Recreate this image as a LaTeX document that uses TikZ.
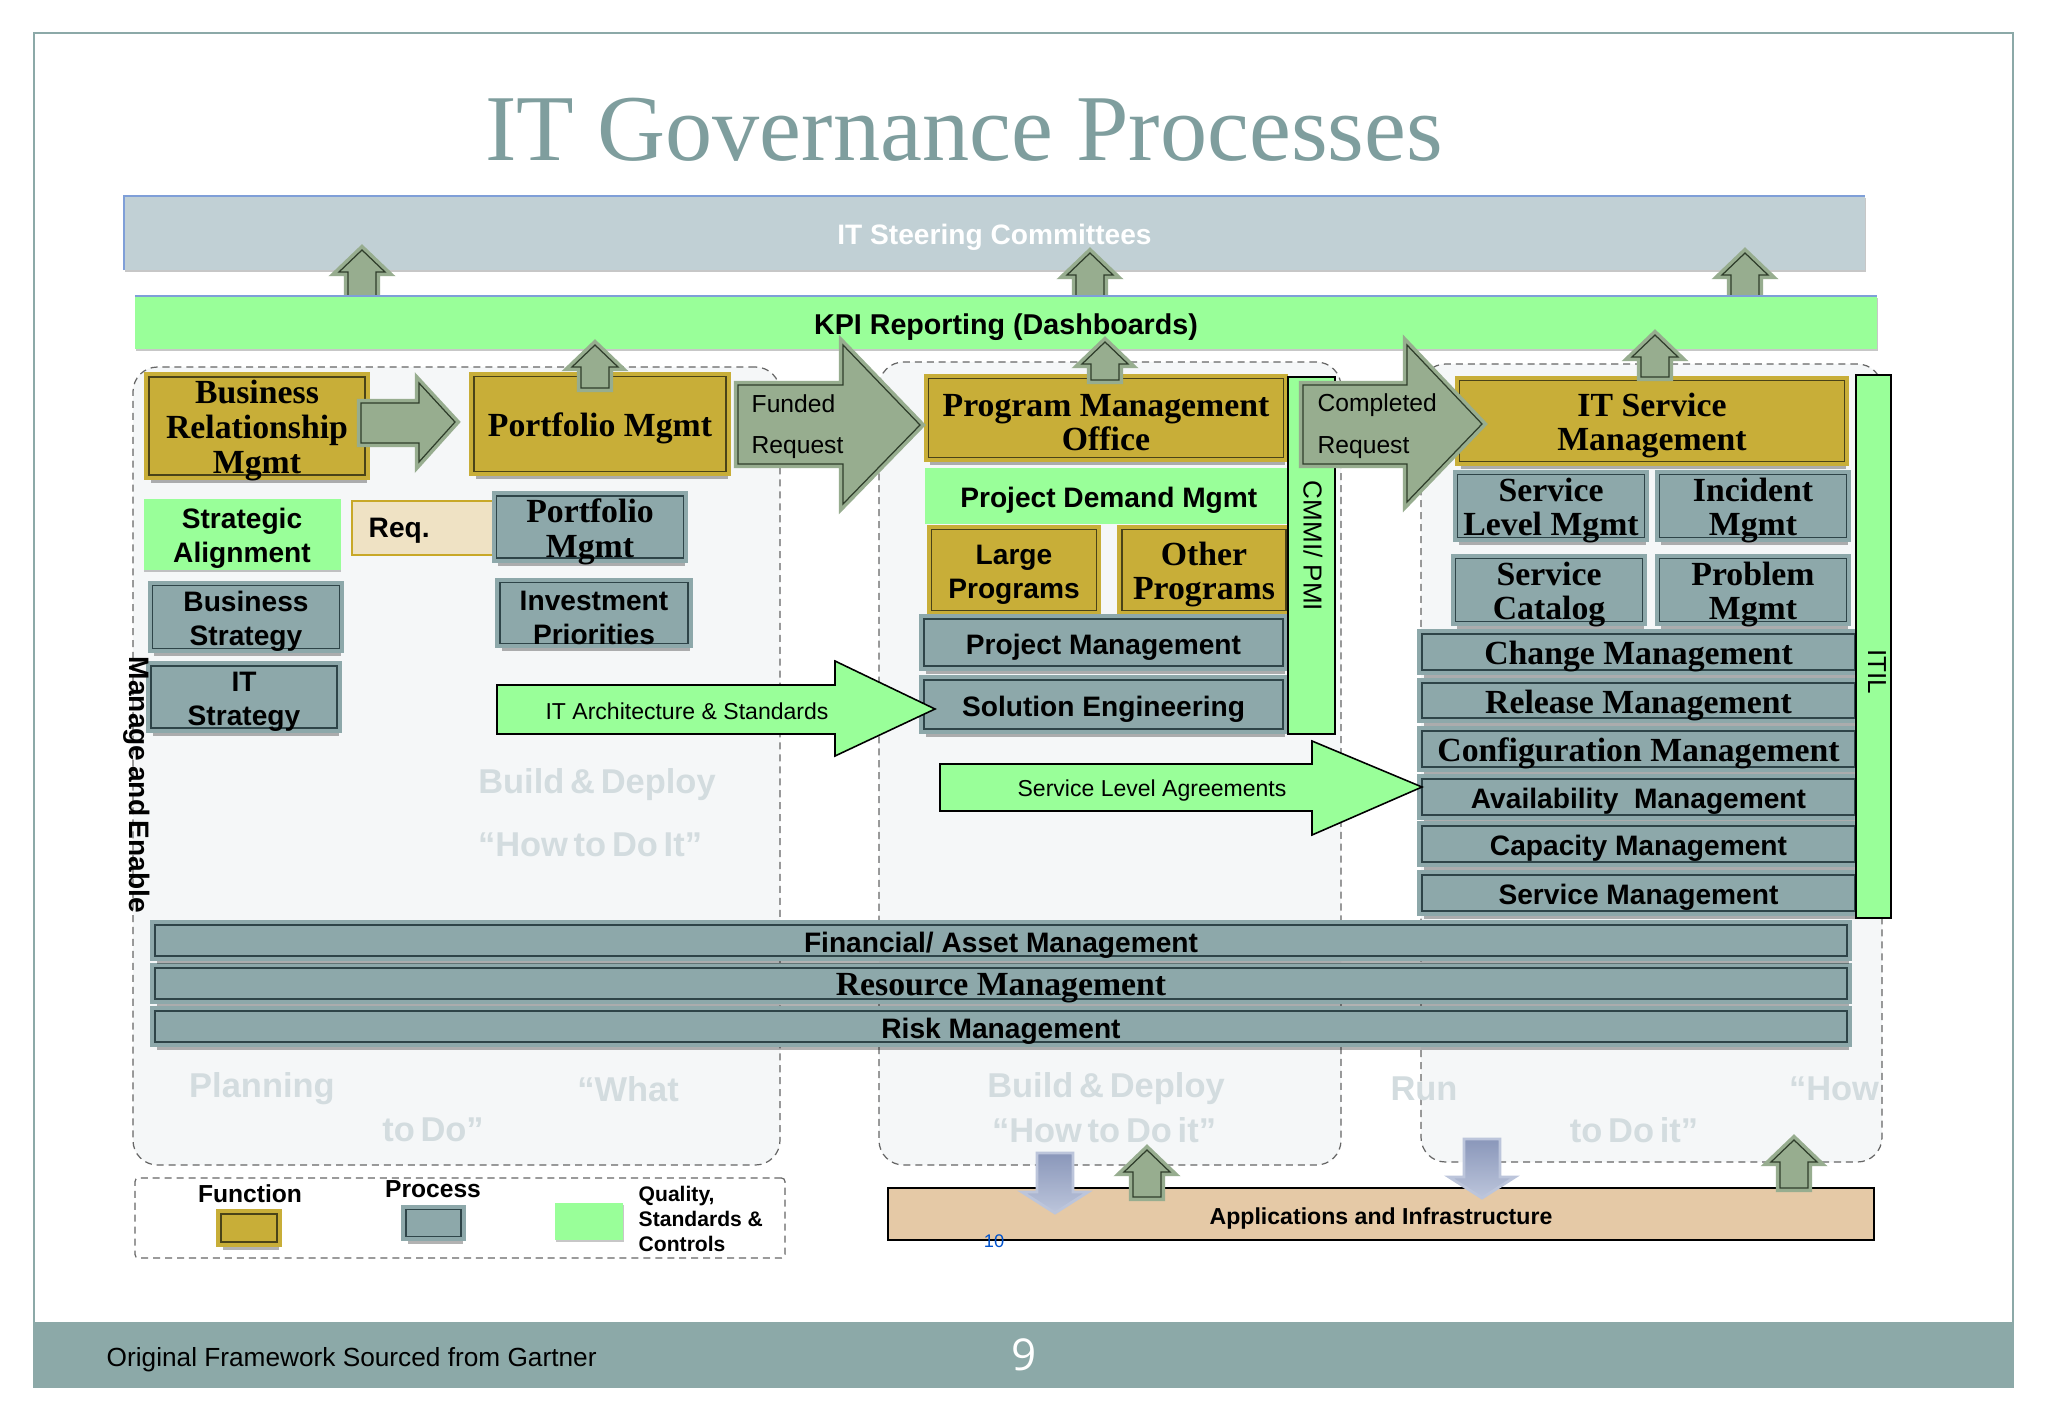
\documentclass[tikz,border=0pt]{standalone}
\usepackage{fontspec}
\setmainfont{Liberation Serif}
\setsansfont{Liberation Sans}
\newfontfamily\pagefont{Open Sans}
\newfontfamily\tightsans[WordSpace=0.6]{Liberation Sans}
\usetikzlibrary{shadows, positioning, calc}
\definecolor{GoldFill}{HTML}{C8AE38}
\definecolor{GoldLine}{HTML}{4A4318}
\definecolor{ProcFill}{HTML}{8DA8AA}
\definecolor{ProcLine}{HTML}{2E4448}
\definecolor{SageFill}{HTML}{97AD8F}
\definecolor{SageLine}{HTML}{2F3D2B}
\definecolor{QualGreen}{HTML}{99FF99}
\definecolor{SteerFill}{HTML}{C1D0D5}
\definecolor{EdgeBlue}{HTML}{7F9FD8}
\definecolor{RegionFill}{HTML}{F5F7F8}
\definecolor{GhostText}{HTML}{D3DCDF}
\definecolor{TitleColor}{HTML}{7F9E9E}
\definecolor{FootFill}{HTML}{8CA9A8}
\definecolor{ReqFill}{HTML}{EFE2C4}
\definecolor{ReqLine}{HTML}{C8A828}
\definecolor{InfraFill}{HTML}{E5C9A6}
\definecolor{DownDark}{HTML}{8A97BA}
\definecolor{DownLight}{HTML}{BCC5DB}
\tikzstyle{plain box} = [inner sep=0pt, outer sep=0pt, align=center]
\tikzstyle{boxshadow} = [drop shadow={shadow xshift=0.5pt, shadow yshift=-2.2pt, opacity=.3, fill=black}]
\tikzstyle{softshadow} = [drop shadow={shadow xshift=0.2pt, shadow yshift=-.6pt, opacity=.22, fill=black}]
\tikzstyle{boxtext} = [plain box, yshift=-1.3pt]
\tikzstyle{serifbold} = [font=\rmfamily\bfseries\fontsize{9.6}{9.9}\selectfont]
\tikzstyle{sansbold} = [font=\sffamily\bfseries\fontsize{8}{9.7}\selectfont]
\tikzstyle{smallsans} = [font=\sffamily\fontsize{6.55}{8}\selectfont]
\tikzstyle{ghost} = [font=\tightsans\bfseries\fontsize{9.8}{12}\selectfont, text=GhostText, inner sep=0pt]
\tikzstyle{funcbox} = [plain box, boxshadow, draw=GoldFill, fill=GoldFill, line width=2.6pt,
    postaction={draw=GoldLine, line width=.4pt}]
\tikzstyle{procbox} = [plain box, boxshadow, draw=ProcFill, fill=ProcFill, line width=2.6pt,
    postaction={draw=ProcLine, line width=.4pt}]
\tikzstyle{qualbox} = [plain box, fill=QualGreen]
\tikzstyle{region} = [plain box, draw=black!60, fill=RegionFill, dashed, dash pattern=on 2pt off 1.4pt,
    line width=.35pt, rounded corners=7pt]
\tikzstyle{sagearrow} = [draw=SageFill, fill=SageFill, line width=2.4pt, miter limit=10,
    postaction={draw=SageLine, line width=.35pt}]
\tikzstyle{greenarrow} = [draw=black, fill=QualGreen, line width=.45pt]
\tikzstyle{downblock} = [draw=DownLight, line width=.8pt, top color=DownDark, bottom color=DownLight, miter limit=10]
\tikzset{
    boxsize/.style 2 args={minimum width=#1*0.01cm, minimum height=#2*0.01cm},
    pics/uparrow/.style={code={\draw[sagearrow] (0,0) -- (23,22) -- (14,22) -- (14,#1) -- (-14,#1) -- (-14,22) -- (-23,22) -- cycle;}},
    pics/downarrow/.style={code={\draw[downblock] (0,0) -- (33,-21) -- (18,-21) -- (18,-#1) -- (-18,-#1) -- (-18,-21) -- (-33,-21) -- cycle;}}
}
\begin{document}
\begin{tikzpicture}[x=0.01cm, y=-0.01cm]
    \useasboundingbox (0,0) rectangle (2048,1418);
    \fill[white] (0,0) rectangle (2048,1418);
    \draw[FootFill, line width=.4pt] (34,33) rectangle (2013,1387);
    \fill[FootFill] (34,1322) rectangle (2013,1387);
    \node[font=\sffamily\fontsize{7.46}{9}\selectfont, anchor=west, inner sep=0pt] (source) at (106,1360) {Original Framework Sourced from Gartner};
    \node[font=\pagefont\fontsize{12.5}{14}\selectfont, text=white, inner sep=0pt] (pagenum) at (1024,1355) {9};
    \node[font=\rmfamily\fontsize{26.8}{30}\selectfont, text=TitleColor, inner sep=0pt] (title) at (964,130) {IT Governance Processes};

    \foreach \n/\cx/\cy/\w/\h in {planregion/456.5/766/647/798, buildregion/1110/763.5/462/803, runregion/1651.5/763/461/798} {
        \node[region, boxsize={\w}{\h}] (\n) at (\cx,\cy) {};
    }
    \node[region, boxsize={650}{80}, fill=white, rounded corners=1pt] (legend) at (460,1218) {};

    \node[plain box, fill=SteerFill, boxsize={1741}{74}, softshadow] (steering) at (994.5,233) {};
    \node[boxtext, text=white, font=\sffamily\bfseries\fontsize{8}{9}\selectfont] (steertext) at (steering) {IT Steering Committees};
    \draw[EdgeBlue, line width=.5pt] (steering.south west) -- (steering.north west) -- (steering.north east);
    \foreach \x/\y/\l in {362/250/46, 1090/253/43, 1745/253/43} {
        \pic at (\x,\y) {uparrow=\l};
    }
    \node[qualbox, boxsize={1742}{53}, softshadow] (kpi) at (1006,322.5) {};
    \node[boxtext, font=\sffamily\bfseries\fontsize{8.15}{9.7}\selectfont] (kpitext) at (kpi) {KPI Reporting (Dashboards)};
    \draw[EdgeBlue, line width=.5pt] (kpi.north west) -- (kpi.north east);

    \foreach \n/\cx/\cy/\w/\h/\t in {brm/257/426/216/98/Business\\Relationship\\Mgmt, folio/600/424/252/95/Portfolio Mgmt, pmo/1106/418/355/79/Program Management\\Office, other/1204/570/164/81/Other\\Programs, itsm/1652/421/385/81/IT Service\\Management} {
        \node[funcbox, boxsize={\w}{\h}] (\n) at (\cx,\cy) {};
        \node[boxtext, serifbold] (\n text) at (\n) {\t};
    }
    \node[funcbox, boxsize={165}{81}] (large) at (1014,570) {};
    \node[boxtext, sansbold] (large text) at (large) {Large\\Programs};

    \node[qualbox, boxsize={197}{71}, softshadow] (stratalign) at (242,534) {};
    \node[boxtext, sansbold] (stratalign text) at (stratalign) {Strategic\\Alignment};
    \node[plain box, fill=ReqFill, draw=ReqLine, line width=.5pt, boxsize={145}{54}, anchor=west] (req) at (352,528) {};
    \node[sansbold, anchor=west, inner sep=0pt] (reqtext) at (368,531) {Req.};
    \node[qualbox, boxsize={363}{56}] (demand) at (1106,496) {};
    \node[boxtext, sansbold, xshift=.8pt] (demand text) at (demand) {Project Demand Mgmt};

    \foreach \n/\cx/\cy/\w/\h/\t in {pfolio/590/527/187/62/Portfolio\\Mgmt, slm/1551/506/187/63/Service\\Level Mgmt, incident/1753/506/187/63/Incident\\Mgmt, catalog/1549/590/187/63/Service\\Catalog, problem/1753/590/187/63/Problem\\Mgmt, change/1638.5/652/433/36/Change Management, release/1638.5/700.5/433/35/Release Management, config/1638.5/749/433/36/Configuration Management, resource/1001/983.5/1692/31/Resource Management} {
        \node[procbox, boxsize={\w}{\h}] (\n) at (\cx,\cy) {};
        \node[boxtext, serifbold] (\n text) at (\n) {\t};
    }
    \foreach \n/\cx/\cy/\w/\h/\t in {bstrat/246/617/187/63/Business\\Strategy, invest/594/613/188/61/Investment\\Priorities, itstrat/244/697/186/62/IT\\Strategy, projm/1103.5/642.5/359/47/Project Management, soln/1103.5/704.5/359/49/Solution Engineering, avail/1638.5/797/433/36/Availability\ \ Management, capacity/1638.5/844/433/36/Capacity Management, servm/1638.5/893/433/36/Service Management, fin/1001/940.5/1692/31/{Financial/ Asset Management}, risk/1001/1026.5/1692/31/Risk Management} {
        \node[procbox, boxsize={\w}{\h}] (\n) at (\cx,\cy) {};
        \node[boxtext, sansbold] (\n text) at (\n) {\t};
    }

    \node[plain box, draw=black, fill=QualGreen, line width=.5pt, boxsize={47}{357}] (cmmibar) at (1311.5,555.5) {};
    \node[font=\sffamily\fontsize{7.4}{9}\selectfont, rotate=-90, inner sep=0pt] (cmmi) at (1313,546) {CMMI/ PMI};
    \node[plain box, draw=black, fill=QualGreen, line width=.5pt, boxsize={35}{543}] (itilbar) at (1873.5,646.5) {};
    \node[font=\sffamily\fontsize{7.4}{9}\selectfont, rotate=-90, inner sep=0pt] (itil) at (1877,672) {ITIL};
    \node[font=\tightsans\bfseries\fontsize{8}{9}\selectfont, rotate=-90, inner sep=0pt] (manage) at (137,785) {Manage and Enable};

    \draw[sagearrow] (361,403) -- (419,403) -- (419,383) -- (455,422) -- (419,462) -- (419,443) -- (361,443) -- cycle;
    \draw[sagearrow] (738,385) -- (843,385) -- (843,345) -- (920,425) -- (843,504) -- (843,464) -- (738,464) -- cycle;
    \draw[sagearrow] (1303,385) -- (1407,385) -- (1407,345) -- (1482,424) -- (1407,502) -- (1407,464) -- (1303,464) -- cycle;
    \foreach \n/\x/\y/\t in {funded/751/404/Funded, funreq/751/448/Request, completed/1317/405/Completed, comreq/1317/448/Request} {
        \node[font=\sffamily\fontsize{7}{9}\selectfont, anchor=west, inner sep=0pt] (\n) at (\x,\y) {\t};
    }
    \foreach \x/\y/\l in {595/345/43, 1105/342/38, 1655/335/42} {
        \pic at (\x,\y) {uparrow=\l};
    }

    \draw[greenarrow] (497,685) -- (835,685) -- (835,661) -- (935,709) -- (835,756) -- (835,734) -- (497,734) -- cycle;
    \node[smallsans] (itarch) at (687,711) {IT Architecture \& Standards};
    \draw[greenarrow] (940,764) -- (1312,764) -- (1312,741) -- (1422,787) -- (1312,835) -- (1312,811) -- (940,811) -- cycle;
    \node[smallsans] (sla) at (1152,791) {Service Level Agreements};

    \foreach \n/\x/\y/\t in {gbuild/597/785/Build \& Deploy, ghow/590/845/“How to Do It”, gplan/262/1089/Planning, gwhat/628/1089/“What, gtodo/433/1130/to Do”, gbuildb/1106/1089/Build \& Deploy, ghowb/1104/1130/“How to Do it”, grun/1424/1089/Run, ghowc/1834/1089/“How, gtodoc/1634/1130/to Do it”} {
        \node[ghost] (\n) at (\x,\y) {\t};
    }

    \node[plain box, draw=black, line width=.5pt, fill=InfraFill, boxsize={986}{52}] (infra) at (1381,1214) {};
    \node[boxtext, font=\sffamily\bfseries\fontsize{6.57}{8}\selectfont] (infratext) at (infra) {Applications and Infrastructure};
    \node[font=\sffamily\fontsize{5.2}{6}\selectfont, text=blue!60!cyan!80!black, inner sep=0pt] (ten) at (994,1241) {10};
    \pic at (1055,1213) {downarrow=60};
    \pic at (1482,1198) {downarrow=59};
    \pic at (1147,1150) {uparrow=47};
    \pic at (1794,1140) {uparrow=48};

    \node[inner sep=0pt, font=\sffamily\bfseries\fontsize{7}{9}\selectfont] (lfunc) at (250,1194) {Function};
    \node[inner sep=0pt, font=\sffamily\bfseries\fontsize{7}{9}\selectfont] (lproc) at (433,1189) {Process};
    \node[funcbox, boxsize={56}{28}] (lfuncbox) at (249,1228) {};
    \node[procbox, boxsize={55}{27}] (lprocbox) at (433.5,1223) {};
    \node[qualbox, boxsize={68}{37}, softshadow] (lqual) at (589,1221.5) {};
    \node[font=\sffamily\bfseries\fontsize{6}{7.1}\selectfont, anchor=west, align=left, inner sep=0pt] (lqualtext) at (638,1219) {Quality,\\Standards \&\\Controls};
\end{tikzpicture}
\end{document}
